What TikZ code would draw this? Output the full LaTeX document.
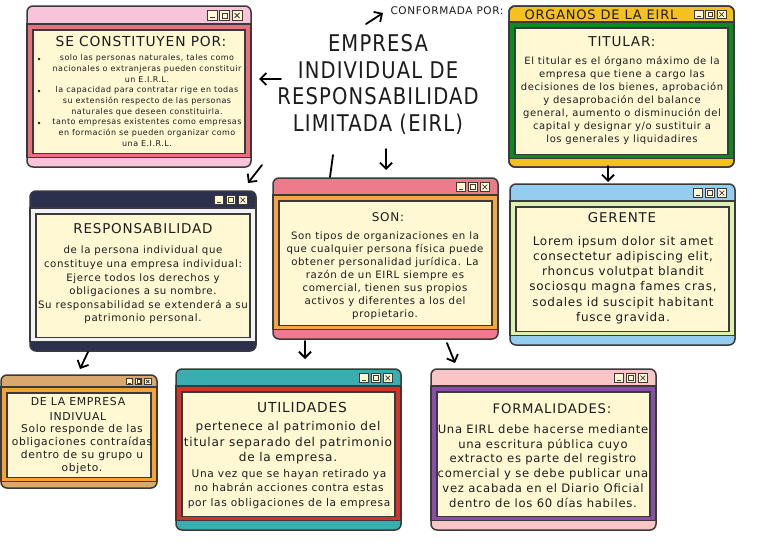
\documentclass[tikz,border=0pt]{standalone}
\usepackage{fontspec}
\setmainfont{DejaVu Sans}[LetterSpace=6]
\newfontfamily\titlefont{DejaVu Sans}[FakeStretch=0.85,LetterSpace=5]
\usetikzlibrary{arrows.meta}

\definecolor{edge}{HTML}{3A3A3A}
\definecolor{cream}{HTML}{FFF8D3}
\definecolor{ink}{HTML}{1C1C1C}
\definecolor{pinklt}{HTML}{F8C4DA}
\definecolor{rose}{HTML}{E8707C}
\definecolor{gold}{HTML}{F4C21E}
\definecolor{leaf}{HTML}{0D8A1F}
\definecolor{navy}{HTML}{2C2F4E}
\definecolor{mist}{HTML}{F2F2F6}
\definecolor{salmon}{HTML}{EE7B8B}
\definecolor{amber}{HTML}{F6A445}
\definecolor{sky}{HTML}{93CDF0}
\definecolor{lime}{HTML}{DDF1B3}
\definecolor{sand}{HTML}{D9A86F}
\definecolor{tangerine}{HTML}{F7A235}
\definecolor{lagoon}{HTML}{3AADB0}
\definecolor{brick}{HTML}{D5322B}
\definecolor{blush}{HTML}{F8C6C6}
\definecolor{plum}{HTML}{8C4DA6}

% window: x1, y1, x2, y2, bar colour, frame colour, bar height
\newcommand{\window}[7]{%
  \pgfmathsetmacro{\wbar}{#2+#7}%
  \pgfmathsetmacro{\wstrip}{#4-0.55*#7}%
  \pgfmathsetmacro{\wico}{0.55*#7}%
  \pgfmathsetmacro{\wicy}{#2+0.5*#7+0.5}%
  \pgfmathsetmacro{\wicx}{#3-0.5*#7-0.5*\wico}%
  \pgfmathsetmacro{\wgap}{\wico+2.5}%
  \fill[#5, rounded corners=6pt] (#1,#2) rectangle (#3,#4);
  \filldraw[fill=#6, draw=edge, line width=1.2pt] (#1,\wbar) rectangle (#3,\wstrip);
  \filldraw[fill=cream, draw=edge, line width=1.2pt] ({#1+6},{\wbar+6}) rectangle ({#3-6},{\wstrip-4});
  \draw[edge, line width=1.5pt, rounded corners=6pt] (#1,#2) rectangle (#3,#4);
  \foreach \k in {0,1,2}
    \filldraw[fill=cream, draw=edge, line width=0.9pt] ({\wicx-\k*\wgap-\wico/2},{\wicy-\wico/2}) rectangle ++(\wico,\wico);
  \draw[edge, line width=1pt] ({\wicx-2*\wgap-\wico/4},{\wicy+\wico/4}) -- ++({\wico/2},0);
  \draw[edge, line width=0.9pt] ({\wicx-\wgap-\wico/4},{\wicy-\wico/4}) rectangle ++({\wico/2},{\wico/2});
  \draw[edge, line width=0.8pt] ({\wicx-\wico/4},{\wicy-\wico/4}) -- ++({\wico/2},{\wico/2})
    ({\wicx+\wico/4},{\wicy-\wico/4}) -- ++({-\wico/2},{\wico/2});
}

\begin{document}
\begin{tikzpicture}[x=1pt, y=-1pt,
    body/.style={align=center, text=ink, inner sep=0pt},
    head/.style={text=ink, inner sep=0pt},
    dot/.style={circle, fill=ink, inner sep=0pt, minimum size=2.6pt},
    arr/.style={line width=1.8pt, line cap=round, -{Straight Barb[length=6pt,width=12pt]}},
    stroke/.style={line width=1.8pt, line cap=round}]
    \useasboundingbox[fill=white] (0,0) rectangle (768,544);

    % windows
    \window{27}{6}{251}{167}{pinklt}{rose}{18}
    \window{509}{6}{734}{167}{gold}{leaf}{16}
    \window{30}{191}{256}{351}{navy}{mist}{17}
    \window{273}{178}{498}{339}{salmon}{amber}{17}
    \window{510}{184}{735}{345}{sky}{lime}{17}
    \window{1}{375}{157}{488}{sand}{tangerine}{12}
    \window{176}{369}{401}{530}{lagoon}{brick}{17}
    \window{431}{369}{656}{530}{blush}{plum}{17}

    % title
    \node[body, font=\titlefont\fontsize{23}{26.4}\selectfont] (eirl) at (378,84.5)
        {EMPRESA\\INDIVIDUAL DE\\RESPONSABILIDAD\\LIMITADA (EIRL)};
    \node[head, font=\fontsize{10.5}{12}\selectfont] (conf) at (447,11) {CONFORMADA POR:};

    % se constituyen
    \node[head, font=\fontsize{13.8}{15}\selectfont] (se-h) at (141,41) {SE CONSTITUYEN POR:};
    \node[body, font=\fontsize{8}{10.65}\selectfont] (se-txt) at (147,100.5)
        {solo las personas naturales, tales como\\nacionales o extranjeras pueden constituir\\un E.I.R.L.\\la capacidad para contratar rige en todas\\su extensión respecto de las personas\\naturales que deseen constituirla.\\tanto empresas existentes como empresas\\en formación se pueden organizar como\\una E.I.R.L.};
    \node[dot] (se-b1) at (39,59) {};
    \node[dot] (se-b2) at (39,91) {};
    \node[dot] (se-b3) at (39,123) {};

    % organos
    \node[head, anchor=base, font=\fontsize{13}{14}\selectfont] (org-h) at (601,19.5) {ORGANOS DE LA EIRL};
    \draw[edge, line width=1.5pt, rounded corners=6pt] (509,6) rectangle (734,167);
    \node[head, font=\fontsize{13.6}{15}\selectfont] (tit-h) at (622,42) {TITULAR:};
    \node[body, font=\fontsize{10}{13.1}\selectfont] (tit-txt) at (622,100.5)
        {El titular es el órgano máximo de la\\empresa que tiene a cargo las\\decisiones de los bienes, aprobación\\y desaprobación del balance\\general, aumento o disminución del\\capital y designar y/o sustituir a\\los generales y liquidadires};

    % responsabilidad
    \node[head, font=\fontsize{13.5}{15}\selectfont] (resp-h) at (143,229) {RESPONSABILIDAD};
    \node[body, font=\fontsize{10.2}{13.6}\selectfont] (resp-txt) at (143,285)
        {de la persona individual que\\constituye una empresa individual:\\Ejerce todos los derechos y\\obligaciones a su nombre.\\Su responsabilidad se extenderá a su\\patrimonio personal.};

    % son
    \node[head, font=\fontsize{12}{14}\selectfont] (son-h) at (388,217) {SON:};
    \node[body, font=\fontsize{10.2}{13}\selectfont] (son-txt) at (385,276)
        {Son tipos de organizaciones en la\\que cualquier persona física puede\\obtener personalidad jurídica. La\\razón de un EIRL siempre es\\comercial, tienen sus propios\\activos y diferentes a los del\\propietario.};

    % gerente
    \node[head, font=\fontsize{13.4}{15}\selectfont] (ger-h) at (622,218) {GERENTE};
    \node[body, font=\fontsize{12}{15.2}\selectfont] (ger-txt) at (623,280)
        {Lorem ipsum dolor sit amet\\consectetur adipiscing elit,\\rhoncus volutpat blandit\\sociosqu magna fames cras,\\sodales id suscipit habitant\\fusce gravida.};

    % de la empresa
    \node[body, font=\fontsize{10.9}{15}\selectfont] (emp-h) at (78,409) {DE LA EMPRESA\\INDIVUAL};
    \node[body, font=\fontsize{10.7}{13}\selectfont] (emp-txt) at (82,449.5)
        {Solo responde de las\\obligaciones contraídas\\dentro de su grupo u\\objeto.};

    % utilidades
    \node[head, font=\fontsize{13.8}{15}\selectfont] (uti-h) at (302,407) {UTILIDADES};
    \node[body, font=\fontsize{12.1}{15.5}\selectfont] (uti-txt) at (288,443)
        {pertenece al patrimonio del\\titular separado del patrimonio\\de la empresa.};
    \node[body, font=\fontsize{10.6}{14.5}\selectfont] (uti-txt2) at (289,489)
        {Una vez que se hayan retirado ya\\no habrán acciones contra estas\\por las obligaciones de la empresa};

    % formalidades
    \node[head, font=\fontsize{13.2}{15}\selectfont] (for-h) at (552,409) {FORMALIDADES:};
    \node[body, font=\fontsize{11.6}{14.8}\selectfont] (for-txt) at (543,466)
        {Una EIRL debe hacerse mediante\\una escritura pública cuyo\\extracto es parte del registro\\comercial y se debe publicar una\\vez acabada en el Diario Oficial\\dentro de los 60 días habiles.};

    % connectors
    \coordinate (eirl-w) at (281,79);
    \coordinate (se-e) at (259,79);
    \coordinate (eirl-ne) at (366,24);
    \coordinate (conf-w) at (383,13);
    \coordinate (se-s) at (262,165);
    \coordinate (resp-n) at (248,183);
    \coordinate (eirl-s) at (333,155);
    \coordinate (son-nw) at (330,177);
    \coordinate (eirl-s2) at (386,149);
    \coordinate (son-n) at (386,170);
    \coordinate (org-s) at (608,166);
    \coordinate (ger-n) at (608,182);
    \coordinate (resp-s) at (88,352);
    \coordinate (emp-n) at (80,369);
    \coordinate (son-s) at (305,341);
    \coordinate (uti-n) at (305,359);
    \coordinate (son-s2) at (447,343);
    \coordinate (for-n) at (455,363);

    \draw[arr] (eirl-w) -- (se-e);
    \draw[arr] (eirl-ne) -- (conf-w);
    \draw[arr] (se-s) -- (resp-n);
    \draw[stroke] (eirl-s) -- (son-nw);
    \draw[arr] (eirl-s2) -- (son-n);
    \draw[arr] (org-s) -- (ger-n);
    \draw[arr] (resp-s) -- (emp-n);
    \draw[arr] (son-s) -- (uti-n);
    \draw[arr] (son-s2) -- (for-n);
\end{tikzpicture}
\end{document}
